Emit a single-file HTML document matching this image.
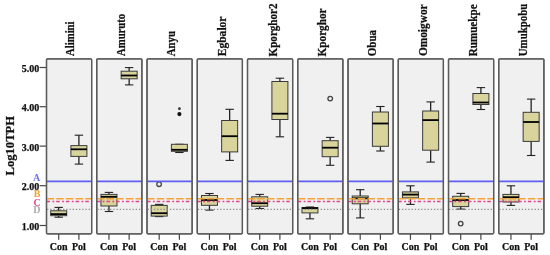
<!DOCTYPE html><html><head><meta charset="utf-8"><title>Boxplot Log10TPH</title><style>html,body{margin:0;padding:0;background:#fff;width:550px;height:255px;overflow:hidden}svg{display:block}text{font-family:"Liberation Serif","Times New Roman",serif}.b{stroke:#111;stroke-width:0.25px}</style></head><body>
<svg width="550" height="255" viewBox="0 0 550 255">
<rect x="0" y="0" width="550" height="255" fill="#fff"/>
<text transform="translate(14.4,175.5) rotate(-90)" class="b" font-size="13" font-weight="bold" fill="#111" textLength="59.6" lengthAdjust="spacingAndGlyphs">Log10TPH</text>
<line x1="39.6" y1="67.5" x2="46.5" y2="67.5" stroke="#444" stroke-width="1.2"/>
<text x="39.2" y="72" class="b" font-size="10" font-weight="bold" text-anchor="end" fill="#111">5.00</text>
<line x1="39.6" y1="106.7" x2="46.5" y2="106.7" stroke="#444" stroke-width="1.2"/>
<text x="39.2" y="111.2" class="b" font-size="10" font-weight="bold" text-anchor="end" fill="#111">4.00</text>
<line x1="39.6" y1="146.1" x2="46.5" y2="146.1" stroke="#444" stroke-width="1.2"/>
<text x="39.2" y="150.6" class="b" font-size="10" font-weight="bold" text-anchor="end" fill="#111">3.00</text>
<line x1="39.6" y1="185.7" x2="46.5" y2="185.7" stroke="#444" stroke-width="1.2"/>
<text x="39.2" y="190.2" class="b" font-size="10" font-weight="bold" text-anchor="end" fill="#111">2.00</text>
<line x1="39.6" y1="225.5" x2="46.5" y2="225.5" stroke="#444" stroke-width="1.2"/>
<text x="39.2" y="230" class="b" font-size="10" font-weight="bold" text-anchor="end" fill="#111">1.00</text>
<text x="33.1" y="181" font-size="10" font-weight="bold" fill="#6a6ef2">A</text>
<text x="33.7" y="196.9" font-size="10" font-weight="bold" fill="#f5a033">B</text>
<text x="33.5" y="205.7" font-size="10" font-weight="bold" fill="#e24a8c">C</text>
<text x="33.3" y="213.4" font-size="10" font-weight="bold" fill="#ababab">D</text>
<rect x="46.5" y="58.8" width="45.15" height="175" rx="1" fill="#f0f0f0" stroke="#5a5a5a" stroke-width="1.3"/>
<text transform="translate(74.48,55.9) rotate(-90)" font-size="11.5" class="b" font-weight="bold" fill="#111" textLength="34.4" lengthAdjust="spacingAndGlyphs">Alimini</text>
<line x1="58.7" y1="233.8" x2="58.7" y2="239.8" stroke="#444" stroke-width="1.2"/>
<text x="58.7" y="249.6" class="b" font-size="10" font-weight="bold" text-anchor="middle" fill="#111">Con</text>
<line x1="58.7" y1="207.4" x2="58.7" y2="210.8" stroke="#222" stroke-width="1.3"/>
<line x1="58.7" y1="215.7" x2="58.7" y2="217.2" stroke="#222" stroke-width="1.3"/>
<line x1="54.5" y1="207.4" x2="62.9" y2="207.4" stroke="#222" stroke-width="1.1"/>
<line x1="54.5" y1="217.2" x2="62.9" y2="217.2" stroke="#222" stroke-width="1.1"/>
<rect x="50.7" y="210.8" width="16" height="4.9" fill="#d9d49b" stroke="#3a3a3a" stroke-width="1"/>
<line x1="50.7" y1="214.1" x2="66.7" y2="214.1" stroke="#000" stroke-width="1.8"/>
<line x1="78.9" y1="233.8" x2="78.9" y2="239.8" stroke="#444" stroke-width="1.2"/>
<text x="78.9" y="249.6" class="b" font-size="10" font-weight="bold" text-anchor="middle" fill="#111">Pol</text>
<line x1="78.9" y1="135.2" x2="78.9" y2="145.6" stroke="#222" stroke-width="1.3"/>
<line x1="78.9" y1="156.4" x2="78.9" y2="164.1" stroke="#222" stroke-width="1.3"/>
<line x1="74.7" y1="135.2" x2="83.1" y2="135.2" stroke="#222" stroke-width="1.1"/>
<line x1="74.7" y1="164.1" x2="83.1" y2="164.1" stroke="#222" stroke-width="1.1"/>
<rect x="70.9" y="145.6" width="16" height="10.8" fill="#d9d49b" stroke="#3a3a3a" stroke-width="1"/>
<line x1="70.9" y1="149.3" x2="86.9" y2="149.3" stroke="#000" stroke-width="1.8"/>
<rect x="96.75" y="58.8" width="45.15" height="175" rx="1" fill="#f0f0f0" stroke="#5a5a5a" stroke-width="1.3"/>
<text transform="translate(125.23,55.9) rotate(-90)" font-size="11.5" class="b" font-weight="bold" fill="#111" textLength="42" lengthAdjust="spacingAndGlyphs">Amuruto</text>
<line x1="108.95" y1="233.8" x2="108.95" y2="239.8" stroke="#444" stroke-width="1.2"/>
<text x="108.95" y="249.6" class="b" font-size="10" font-weight="bold" text-anchor="middle" fill="#111">Con</text>
<line x1="108.95" y1="192.4" x2="108.95" y2="194.4" stroke="#222" stroke-width="1.3"/>
<line x1="108.95" y1="206" x2="108.95" y2="211.5" stroke="#222" stroke-width="1.3"/>
<line x1="104.75" y1="192.4" x2="113.15" y2="192.4" stroke="#222" stroke-width="1.1"/>
<line x1="104.75" y1="211.5" x2="113.15" y2="211.5" stroke="#222" stroke-width="1.1"/>
<rect x="100.95" y="194.4" width="16" height="11.6" fill="#d9d49b" stroke="#3a3a3a" stroke-width="1"/>
<line x1="100.95" y1="196.8" x2="116.95" y2="196.8" stroke="#000" stroke-width="1.8"/>
<line x1="129.15" y1="233.8" x2="129.15" y2="239.8" stroke="#444" stroke-width="1.2"/>
<text x="129.15" y="249.6" class="b" font-size="10" font-weight="bold" text-anchor="middle" fill="#111">Pol</text>
<line x1="129.15" y1="67.6" x2="129.15" y2="71.2" stroke="#222" stroke-width="1.3"/>
<line x1="129.15" y1="78.8" x2="129.15" y2="84.9" stroke="#222" stroke-width="1.3"/>
<line x1="124.95" y1="67.6" x2="133.35" y2="67.6" stroke="#222" stroke-width="1.1"/>
<line x1="124.95" y1="84.9" x2="133.35" y2="84.9" stroke="#222" stroke-width="1.1"/>
<rect x="121.15" y="71.2" width="16" height="7.6" fill="#d9d49b" stroke="#3a3a3a" stroke-width="1"/>
<line x1="121.15" y1="75.5" x2="137.15" y2="75.5" stroke="#000" stroke-width="1.8"/>
<rect x="147" y="58.8" width="45.15" height="175" rx="1" fill="#f0f0f0" stroke="#5a5a5a" stroke-width="1.3"/>
<text transform="translate(174.97,56.3) rotate(-90)" font-size="11.5" class="b" font-weight="bold" fill="#111" textLength="25.2" lengthAdjust="spacingAndGlyphs">Anyu</text>
<line x1="159.2" y1="233.8" x2="159.2" y2="239.8" stroke="#444" stroke-width="1.2"/>
<text x="159.2" y="249.6" class="b" font-size="10" font-weight="bold" text-anchor="middle" fill="#111">Con</text>
<line x1="159.2" y1="204.4" x2="159.2" y2="205.4" stroke="#222" stroke-width="1.3"/>
<line x1="159.2" y1="216.1" x2="159.2" y2="216.6" stroke="#222" stroke-width="1.3"/>
<line x1="155" y1="204.4" x2="163.4" y2="204.4" stroke="#222" stroke-width="1.1"/>
<line x1="155" y1="216.6" x2="163.4" y2="216.6" stroke="#222" stroke-width="1.1"/>
<rect x="151.2" y="205.4" width="16" height="10.7" fill="#d9d49b" stroke="#3a3a3a" stroke-width="1"/>
<line x1="151.2" y1="213.2" x2="167.2" y2="213.2" stroke="#000" stroke-width="1.8"/>
<line x1="179.4" y1="233.8" x2="179.4" y2="239.8" stroke="#444" stroke-width="1.2"/>
<text x="179.4" y="249.6" class="b" font-size="10" font-weight="bold" text-anchor="middle" fill="#111">Pol</text>
<line x1="179.4" y1="144.3" x2="179.4" y2="144.3" stroke="#222" stroke-width="1.3"/>
<line x1="179.4" y1="151.3" x2="179.4" y2="152.5" stroke="#222" stroke-width="1.3"/>
<line x1="175.2" y1="144.3" x2="183.6" y2="144.3" stroke="#222" stroke-width="1.1"/>
<line x1="175.2" y1="152.5" x2="183.6" y2="152.5" stroke="#222" stroke-width="1.1"/>
<rect x="171.4" y="144.3" width="16" height="7" fill="#d9d49b" stroke="#3a3a3a" stroke-width="1"/>
<line x1="171.4" y1="149.8" x2="187.4" y2="149.8" stroke="#000" stroke-width="1.8"/>
<rect x="197.25" y="58.8" width="45.15" height="175" rx="1" fill="#f0f0f0" stroke="#5a5a5a" stroke-width="1.3"/>
<text transform="translate(225.82,56.3) rotate(-90)" font-size="11.5" class="b" font-weight="bold" fill="#111" textLength="39.8" lengthAdjust="spacingAndGlyphs">Egbalor</text>
<line x1="209.45" y1="233.8" x2="209.45" y2="239.8" stroke="#444" stroke-width="1.2"/>
<text x="209.45" y="249.6" class="b" font-size="10" font-weight="bold" text-anchor="middle" fill="#111">Con</text>
<line x1="209.45" y1="193.5" x2="209.45" y2="195.5" stroke="#222" stroke-width="1.3"/>
<line x1="209.45" y1="205.3" x2="209.45" y2="210.1" stroke="#222" stroke-width="1.3"/>
<line x1="205.25" y1="193.5" x2="213.65" y2="193.5" stroke="#222" stroke-width="1.1"/>
<line x1="205.25" y1="210.1" x2="213.65" y2="210.1" stroke="#222" stroke-width="1.1"/>
<rect x="201.45" y="195.5" width="16" height="9.8" fill="#d9d49b" stroke="#3a3a3a" stroke-width="1"/>
<line x1="201.45" y1="200" x2="217.45" y2="200" stroke="#000" stroke-width="1.8"/>
<line x1="229.65" y1="233.8" x2="229.65" y2="239.8" stroke="#444" stroke-width="1.2"/>
<text x="229.65" y="249.6" class="b" font-size="10" font-weight="bold" text-anchor="middle" fill="#111">Pol</text>
<line x1="229.65" y1="109.3" x2="229.65" y2="120.5" stroke="#222" stroke-width="1.3"/>
<line x1="229.65" y1="151.9" x2="229.65" y2="160.4" stroke="#222" stroke-width="1.3"/>
<line x1="225.45" y1="109.3" x2="233.85" y2="109.3" stroke="#222" stroke-width="1.1"/>
<line x1="225.45" y1="160.4" x2="233.85" y2="160.4" stroke="#222" stroke-width="1.1"/>
<rect x="221.65" y="120.5" width="16" height="31.4" fill="#d9d49b" stroke="#3a3a3a" stroke-width="1"/>
<line x1="221.65" y1="136.2" x2="237.65" y2="136.2" stroke="#000" stroke-width="1.8"/>
<rect x="247.5" y="58.8" width="45.15" height="175" rx="1" fill="#f0f0f0" stroke="#5a5a5a" stroke-width="1.3"/>
<text transform="translate(277.47,56.4) rotate(-90)" font-size="11.5" class="b" font-weight="bold" fill="#111" textLength="52.9" lengthAdjust="spacingAndGlyphs">Kporghor2</text>
<line x1="259.7" y1="233.8" x2="259.7" y2="239.8" stroke="#444" stroke-width="1.2"/>
<text x="259.7" y="249.6" class="b" font-size="10" font-weight="bold" text-anchor="middle" fill="#111">Con</text>
<line x1="259.7" y1="194.4" x2="259.7" y2="196.8" stroke="#222" stroke-width="1.3"/>
<line x1="259.7" y1="206.2" x2="259.7" y2="208.5" stroke="#222" stroke-width="1.3"/>
<line x1="255.5" y1="194.4" x2="263.9" y2="194.4" stroke="#222" stroke-width="1.1"/>
<line x1="255.5" y1="208.5" x2="263.9" y2="208.5" stroke="#222" stroke-width="1.1"/>
<rect x="251.7" y="196.8" width="16" height="9.4" fill="#d9d49b" stroke="#3a3a3a" stroke-width="1"/>
<line x1="251.7" y1="203.2" x2="267.7" y2="203.2" stroke="#000" stroke-width="1.8"/>
<line x1="279.9" y1="233.8" x2="279.9" y2="239.8" stroke="#444" stroke-width="1.2"/>
<text x="279.9" y="249.6" class="b" font-size="10" font-weight="bold" text-anchor="middle" fill="#111">Pol</text>
<line x1="279.9" y1="78.2" x2="279.9" y2="81.5" stroke="#222" stroke-width="1.3"/>
<line x1="279.9" y1="119.5" x2="279.9" y2="136.8" stroke="#222" stroke-width="1.3"/>
<line x1="275.7" y1="78.2" x2="284.1" y2="78.2" stroke="#222" stroke-width="1.1"/>
<line x1="275.7" y1="136.8" x2="284.1" y2="136.8" stroke="#222" stroke-width="1.1"/>
<rect x="271.9" y="81.5" width="16" height="38" fill="#d9d49b" stroke="#3a3a3a" stroke-width="1"/>
<line x1="271.9" y1="113.7" x2="287.9" y2="113.7" stroke="#000" stroke-width="1.8"/>
<rect x="297.75" y="58.8" width="45.15" height="175" rx="1" fill="#f0f0f0" stroke="#5a5a5a" stroke-width="1.3"/>
<text transform="translate(325.72,56.4) rotate(-90)" font-size="11.5" class="b" font-weight="bold" fill="#111" textLength="47.9" lengthAdjust="spacingAndGlyphs">Kporghor</text>
<line x1="309.95" y1="233.8" x2="309.95" y2="239.8" stroke="#444" stroke-width="1.2"/>
<text x="309.95" y="249.6" class="b" font-size="10" font-weight="bold" text-anchor="middle" fill="#111">Con</text>
<line x1="309.95" y1="207" x2="309.95" y2="207.6" stroke="#222" stroke-width="1.3"/>
<line x1="309.95" y1="212.9" x2="309.95" y2="218.8" stroke="#222" stroke-width="1.3"/>
<line x1="305.75" y1="207" x2="314.15" y2="207" stroke="#222" stroke-width="1.1"/>
<line x1="305.75" y1="218.8" x2="314.15" y2="218.8" stroke="#222" stroke-width="1.1"/>
<rect x="301.95" y="207.6" width="16" height="5.3" fill="#d9d49b" stroke="#3a3a3a" stroke-width="1"/>
<line x1="301.95" y1="208.2" x2="317.95" y2="208.2" stroke="#000" stroke-width="1.8"/>
<line x1="330.15" y1="233.8" x2="330.15" y2="239.8" stroke="#444" stroke-width="1.2"/>
<text x="330.15" y="249.6" class="b" font-size="10" font-weight="bold" text-anchor="middle" fill="#111">Pol</text>
<line x1="330.15" y1="137.4" x2="330.15" y2="140.7" stroke="#222" stroke-width="1.3"/>
<line x1="330.15" y1="156.7" x2="330.15" y2="165.3" stroke="#222" stroke-width="1.3"/>
<line x1="325.95" y1="137.4" x2="334.35" y2="137.4" stroke="#222" stroke-width="1.1"/>
<line x1="325.95" y1="165.3" x2="334.35" y2="165.3" stroke="#222" stroke-width="1.1"/>
<rect x="322.15" y="140.7" width="16" height="16" fill="#d9d49b" stroke="#3a3a3a" stroke-width="1"/>
<line x1="322.15" y1="147.7" x2="338.15" y2="147.7" stroke="#000" stroke-width="1.8"/>
<rect x="348" y="58.8" width="45.15" height="175" rx="1" fill="#f0f0f0" stroke="#5a5a5a" stroke-width="1.3"/>
<text transform="translate(376.47,56.3) rotate(-90)" font-size="11.5" class="b" font-weight="bold" fill="#111" textLength="26.4" lengthAdjust="spacingAndGlyphs">Obua</text>
<line x1="360.2" y1="233.8" x2="360.2" y2="239.8" stroke="#444" stroke-width="1.2"/>
<text x="360.2" y="249.6" class="b" font-size="10" font-weight="bold" text-anchor="middle" fill="#111">Con</text>
<line x1="360.2" y1="189.7" x2="360.2" y2="196" stroke="#222" stroke-width="1.3"/>
<line x1="360.2" y1="203.8" x2="360.2" y2="217.9" stroke="#222" stroke-width="1.3"/>
<line x1="356" y1="189.7" x2="364.4" y2="189.7" stroke="#222" stroke-width="1.1"/>
<line x1="356" y1="217.9" x2="364.4" y2="217.9" stroke="#222" stroke-width="1.1"/>
<rect x="352.2" y="196" width="16" height="7.8" fill="#d9d49b" stroke="#3a3a3a" stroke-width="1"/>
<line x1="352.2" y1="198.3" x2="368.2" y2="198.3" stroke="#000" stroke-width="1.8"/>
<line x1="380.4" y1="233.8" x2="380.4" y2="239.8" stroke="#444" stroke-width="1.2"/>
<text x="380.4" y="249.6" class="b" font-size="10" font-weight="bold" text-anchor="middle" fill="#111">Pol</text>
<line x1="380.4" y1="106.5" x2="380.4" y2="112" stroke="#222" stroke-width="1.3"/>
<line x1="380.4" y1="146.3" x2="380.4" y2="151" stroke="#222" stroke-width="1.3"/>
<line x1="376.2" y1="106.5" x2="384.6" y2="106.5" stroke="#222" stroke-width="1.1"/>
<line x1="376.2" y1="151" x2="384.6" y2="151" stroke="#222" stroke-width="1.1"/>
<rect x="372.4" y="112" width="16" height="34.3" fill="#d9d49b" stroke="#3a3a3a" stroke-width="1"/>
<line x1="372.4" y1="123.5" x2="388.4" y2="123.5" stroke="#000" stroke-width="1.8"/>
<rect x="398.25" y="58.8" width="45.15" height="175" rx="1" fill="#f0f0f0" stroke="#5a5a5a" stroke-width="1.3"/>
<text transform="translate(426.62,56.1) rotate(-90)" font-size="11.5" class="b" font-weight="bold" fill="#111" textLength="51.7" lengthAdjust="spacingAndGlyphs">Omoigwor</text>
<line x1="410.45" y1="233.8" x2="410.45" y2="239.8" stroke="#444" stroke-width="1.2"/>
<text x="410.45" y="249.6" class="b" font-size="10" font-weight="bold" text-anchor="middle" fill="#111">Con</text>
<line x1="410.45" y1="185.8" x2="410.45" y2="191.9" stroke="#222" stroke-width="1.3"/>
<line x1="410.45" y1="197.9" x2="410.45" y2="204.4" stroke="#222" stroke-width="1.3"/>
<line x1="406.25" y1="185.8" x2="414.65" y2="185.8" stroke="#222" stroke-width="1.1"/>
<line x1="406.25" y1="204.4" x2="414.65" y2="204.4" stroke="#222" stroke-width="1.1"/>
<rect x="402.45" y="191.9" width="16" height="6" fill="#d9d49b" stroke="#3a3a3a" stroke-width="1"/>
<line x1="402.45" y1="194.6" x2="418.45" y2="194.6" stroke="#000" stroke-width="1.8"/>
<line x1="430.65" y1="233.8" x2="430.65" y2="239.8" stroke="#444" stroke-width="1.2"/>
<text x="430.65" y="249.6" class="b" font-size="10" font-weight="bold" text-anchor="middle" fill="#111">Pol</text>
<line x1="430.65" y1="101.9" x2="430.65" y2="111" stroke="#222" stroke-width="1.3"/>
<line x1="430.65" y1="150.2" x2="430.65" y2="162.1" stroke="#222" stroke-width="1.3"/>
<line x1="426.45" y1="101.9" x2="434.85" y2="101.9" stroke="#222" stroke-width="1.1"/>
<line x1="426.45" y1="162.1" x2="434.85" y2="162.1" stroke="#222" stroke-width="1.1"/>
<rect x="422.65" y="111" width="16" height="39.2" fill="#d9d49b" stroke="#3a3a3a" stroke-width="1"/>
<line x1="422.65" y1="120.1" x2="438.65" y2="120.1" stroke="#000" stroke-width="1.8"/>
<rect x="448.5" y="58.8" width="45.15" height="175" rx="1" fill="#f0f0f0" stroke="#5a5a5a" stroke-width="1.3"/>
<text transform="translate(477.07,56.3) rotate(-90)" font-size="11.5" class="b" font-weight="bold" fill="#111" textLength="51.9" lengthAdjust="spacingAndGlyphs">Rumuekpe</text>
<line x1="460.7" y1="233.8" x2="460.7" y2="239.8" stroke="#444" stroke-width="1.2"/>
<text x="460.7" y="249.6" class="b" font-size="10" font-weight="bold" text-anchor="middle" fill="#111">Con</text>
<line x1="460.7" y1="193.4" x2="460.7" y2="196.3" stroke="#222" stroke-width="1.3"/>
<line x1="460.7" y1="206.6" x2="460.7" y2="209.1" stroke="#222" stroke-width="1.3"/>
<line x1="456.5" y1="193.4" x2="464.9" y2="193.4" stroke="#222" stroke-width="1.1"/>
<line x1="456.5" y1="209.1" x2="464.9" y2="209.1" stroke="#222" stroke-width="1.1"/>
<rect x="452.7" y="196.3" width="16" height="10.3" fill="#d9d49b" stroke="#3a3a3a" stroke-width="1"/>
<line x1="452.7" y1="200" x2="468.7" y2="200" stroke="#000" stroke-width="1.8"/>
<line x1="480.9" y1="233.8" x2="480.9" y2="239.8" stroke="#444" stroke-width="1.2"/>
<text x="480.9" y="249.6" class="b" font-size="10" font-weight="bold" text-anchor="middle" fill="#111">Pol</text>
<line x1="480.9" y1="87.6" x2="480.9" y2="93.5" stroke="#222" stroke-width="1.3"/>
<line x1="480.9" y1="104.5" x2="480.9" y2="109.5" stroke="#222" stroke-width="1.3"/>
<line x1="476.7" y1="87.6" x2="485.1" y2="87.6" stroke="#222" stroke-width="1.1"/>
<line x1="476.7" y1="109.5" x2="485.1" y2="109.5" stroke="#222" stroke-width="1.1"/>
<rect x="472.9" y="93.5" width="16" height="11" fill="#d9d49b" stroke="#3a3a3a" stroke-width="1"/>
<line x1="472.9" y1="102.5" x2="488.9" y2="102.5" stroke="#000" stroke-width="1.8"/>
<rect x="498.75" y="58.8" width="45.15" height="175" rx="1" fill="#f0f0f0" stroke="#5a5a5a" stroke-width="1.3"/>
<text transform="translate(527.12,56.2) rotate(-90)" font-size="11.5" class="b" font-weight="bold" fill="#111" textLength="52.4" lengthAdjust="spacingAndGlyphs">Umukpobu</text>
<line x1="510.95" y1="233.8" x2="510.95" y2="239.8" stroke="#444" stroke-width="1.2"/>
<text x="510.95" y="249.6" class="b" font-size="10" font-weight="bold" text-anchor="middle" fill="#111">Con</text>
<line x1="510.95" y1="185.8" x2="510.95" y2="194.4" stroke="#222" stroke-width="1.3"/>
<line x1="510.95" y1="202" x2="510.95" y2="205.4" stroke="#222" stroke-width="1.3"/>
<line x1="506.75" y1="185.8" x2="515.15" y2="185.8" stroke="#222" stroke-width="1.1"/>
<line x1="506.75" y1="205.4" x2="515.15" y2="205.4" stroke="#222" stroke-width="1.1"/>
<rect x="502.95" y="194.4" width="16" height="7.6" fill="#d9d49b" stroke="#3a3a3a" stroke-width="1"/>
<line x1="502.95" y1="197.2" x2="518.95" y2="197.2" stroke="#000" stroke-width="1.8"/>
<line x1="531.15" y1="233.8" x2="531.15" y2="239.8" stroke="#444" stroke-width="1.2"/>
<text x="531.15" y="249.6" class="b" font-size="10" font-weight="bold" text-anchor="middle" fill="#111">Pol</text>
<line x1="531.15" y1="99.1" x2="531.15" y2="112.3" stroke="#222" stroke-width="1.3"/>
<line x1="531.15" y1="141.4" x2="531.15" y2="155.5" stroke="#222" stroke-width="1.3"/>
<line x1="526.95" y1="99.1" x2="535.35" y2="99.1" stroke="#222" stroke-width="1.1"/>
<line x1="526.95" y1="155.5" x2="535.35" y2="155.5" stroke="#222" stroke-width="1.1"/>
<rect x="523.15" y="112.3" width="16" height="29.1" fill="#d9d49b" stroke="#3a3a3a" stroke-width="1"/>
<line x1="523.15" y1="122" x2="539.15" y2="122" stroke="#000" stroke-width="1.8"/>
<circle cx="159.1" cy="184.2" r="2.3" fill="none" stroke="#444" stroke-width="1.3"/>
<circle cx="330.2" cy="98.6" r="2.3" fill="none" stroke="#444" stroke-width="1.3"/>
<circle cx="460.7" cy="223.6" r="2.3" fill="none" stroke="#444" stroke-width="1.3"/>
<circle cx="179.4" cy="108.7" r="1.4" fill="#333"/>
<circle cx="179.4" cy="114.1" r="2.1" fill="#111"/>
<line x1="46.5" y1="181.3" x2="91.65" y2="181.3" stroke="#5f5ff2" stroke-width="1.7"/>
<line x1="46.5" y1="198.8" x2="91.65" y2="198.8" stroke="#f7a139" stroke-width="1.5" stroke-dasharray="7.5 2.2"/>
<line x1="46.5" y1="201.5" x2="91.65" y2="201.5" stroke="#e2418c" stroke-width="1.5" stroke-dasharray="3.5 2.4 1.8 2"/>
<line x1="47.05" y1="209.4" x2="91.65" y2="209.4" stroke="#8c8c8c" stroke-width="1.1" stroke-dasharray="1.3 1.9"/>
<line x1="96.75" y1="181.3" x2="141.9" y2="181.3" stroke="#5f5ff2" stroke-width="1.7"/>
<line x1="96.75" y1="198.8" x2="141.9" y2="198.8" stroke="#f7a139" stroke-width="1.5" stroke-dasharray="7.5 2.2"/>
<line x1="96.75" y1="201.5" x2="141.9" y2="201.5" stroke="#e2418c" stroke-width="1.5" stroke-dasharray="3.5 2.4 1.8 2"/>
<line x1="97.3" y1="209.4" x2="141.9" y2="209.4" stroke="#8c8c8c" stroke-width="1.1" stroke-dasharray="1.3 1.9"/>
<line x1="147" y1="181.3" x2="192.15" y2="181.3" stroke="#5f5ff2" stroke-width="1.7"/>
<line x1="147" y1="198.8" x2="192.15" y2="198.8" stroke="#f7a139" stroke-width="1.5" stroke-dasharray="7.5 2.2"/>
<line x1="147" y1="201.5" x2="192.15" y2="201.5" stroke="#e2418c" stroke-width="1.5" stroke-dasharray="3.5 2.4 1.8 2"/>
<line x1="147.55" y1="209.4" x2="192.15" y2="209.4" stroke="#8c8c8c" stroke-width="1.1" stroke-dasharray="1.3 1.9"/>
<line x1="197.25" y1="181.3" x2="242.4" y2="181.3" stroke="#5f5ff2" stroke-width="1.7"/>
<line x1="197.25" y1="198.8" x2="242.4" y2="198.8" stroke="#f7a139" stroke-width="1.5" stroke-dasharray="7.5 2.2"/>
<line x1="197.25" y1="201.5" x2="242.4" y2="201.5" stroke="#e2418c" stroke-width="1.5" stroke-dasharray="3.5 2.4 1.8 2"/>
<line x1="197.8" y1="209.4" x2="242.4" y2="209.4" stroke="#8c8c8c" stroke-width="1.1" stroke-dasharray="1.3 1.9"/>
<line x1="247.5" y1="181.3" x2="292.65" y2="181.3" stroke="#5f5ff2" stroke-width="1.7"/>
<line x1="247.5" y1="198.8" x2="292.65" y2="198.8" stroke="#f7a139" stroke-width="1.5" stroke-dasharray="7.5 2.2"/>
<line x1="247.5" y1="201.5" x2="292.65" y2="201.5" stroke="#e2418c" stroke-width="1.5" stroke-dasharray="3.5 2.4 1.8 2"/>
<line x1="248.05" y1="209.4" x2="292.65" y2="209.4" stroke="#8c8c8c" stroke-width="1.1" stroke-dasharray="1.3 1.9"/>
<line x1="297.75" y1="181.3" x2="342.9" y2="181.3" stroke="#5f5ff2" stroke-width="1.7"/>
<line x1="297.75" y1="198.8" x2="342.9" y2="198.8" stroke="#f7a139" stroke-width="1.5" stroke-dasharray="7.5 2.2"/>
<line x1="297.75" y1="201.5" x2="342.9" y2="201.5" stroke="#e2418c" stroke-width="1.5" stroke-dasharray="3.5 2.4 1.8 2"/>
<line x1="298.3" y1="209.4" x2="342.9" y2="209.4" stroke="#8c8c8c" stroke-width="1.1" stroke-dasharray="1.3 1.9"/>
<line x1="348" y1="181.3" x2="393.15" y2="181.3" stroke="#5f5ff2" stroke-width="1.7"/>
<line x1="348" y1="198.8" x2="393.15" y2="198.8" stroke="#f7a139" stroke-width="1.5" stroke-dasharray="7.5 2.2"/>
<line x1="348" y1="201.5" x2="393.15" y2="201.5" stroke="#e2418c" stroke-width="1.5" stroke-dasharray="3.5 2.4 1.8 2"/>
<line x1="348.55" y1="209.4" x2="393.15" y2="209.4" stroke="#8c8c8c" stroke-width="1.1" stroke-dasharray="1.3 1.9"/>
<line x1="398.25" y1="181.3" x2="443.4" y2="181.3" stroke="#5f5ff2" stroke-width="1.7"/>
<line x1="398.25" y1="198.8" x2="443.4" y2="198.8" stroke="#f7a139" stroke-width="1.5" stroke-dasharray="7.5 2.2"/>
<line x1="398.25" y1="201.5" x2="443.4" y2="201.5" stroke="#e2418c" stroke-width="1.5" stroke-dasharray="3.5 2.4 1.8 2"/>
<line x1="398.8" y1="209.4" x2="443.4" y2="209.4" stroke="#8c8c8c" stroke-width="1.1" stroke-dasharray="1.3 1.9"/>
<line x1="448.5" y1="181.3" x2="493.65" y2="181.3" stroke="#5f5ff2" stroke-width="1.7"/>
<line x1="448.5" y1="198.8" x2="493.65" y2="198.8" stroke="#f7a139" stroke-width="1.5" stroke-dasharray="7.5 2.2"/>
<line x1="448.5" y1="201.5" x2="493.65" y2="201.5" stroke="#e2418c" stroke-width="1.5" stroke-dasharray="3.5 2.4 1.8 2"/>
<line x1="449.05" y1="209.4" x2="493.65" y2="209.4" stroke="#8c8c8c" stroke-width="1.1" stroke-dasharray="1.3 1.9"/>
<line x1="498.75" y1="181.3" x2="543.9" y2="181.3" stroke="#5f5ff2" stroke-width="1.7"/>
<line x1="498.75" y1="198.8" x2="543.9" y2="198.8" stroke="#f7a139" stroke-width="1.5" stroke-dasharray="7.5 2.2"/>
<line x1="498.75" y1="201.5" x2="543.9" y2="201.5" stroke="#e2418c" stroke-width="1.5" stroke-dasharray="3.5 2.4 1.8 2"/>
<line x1="499.3" y1="209.4" x2="543.9" y2="209.4" stroke="#8c8c8c" stroke-width="1.1" stroke-dasharray="1.3 1.9"/>
<rect x="46.5" y="58.8" width="45.15" height="175" rx="1" fill="none" stroke="#5a5a5a" stroke-width="1.3"/>
<rect x="96.75" y="58.8" width="45.15" height="175" rx="1" fill="none" stroke="#5a5a5a" stroke-width="1.3"/>
<rect x="147" y="58.8" width="45.15" height="175" rx="1" fill="none" stroke="#5a5a5a" stroke-width="1.3"/>
<rect x="197.25" y="58.8" width="45.15" height="175" rx="1" fill="none" stroke="#5a5a5a" stroke-width="1.3"/>
<rect x="247.5" y="58.8" width="45.15" height="175" rx="1" fill="none" stroke="#5a5a5a" stroke-width="1.3"/>
<rect x="297.75" y="58.8" width="45.15" height="175" rx="1" fill="none" stroke="#5a5a5a" stroke-width="1.3"/>
<rect x="348" y="58.8" width="45.15" height="175" rx="1" fill="none" stroke="#5a5a5a" stroke-width="1.3"/>
<rect x="398.25" y="58.8" width="45.15" height="175" rx="1" fill="none" stroke="#5a5a5a" stroke-width="1.3"/>
<rect x="448.5" y="58.8" width="45.15" height="175" rx="1" fill="none" stroke="#5a5a5a" stroke-width="1.3"/>
<rect x="498.75" y="58.8" width="45.15" height="175" rx="1" fill="none" stroke="#5a5a5a" stroke-width="1.3"/>
</svg></body></html>
